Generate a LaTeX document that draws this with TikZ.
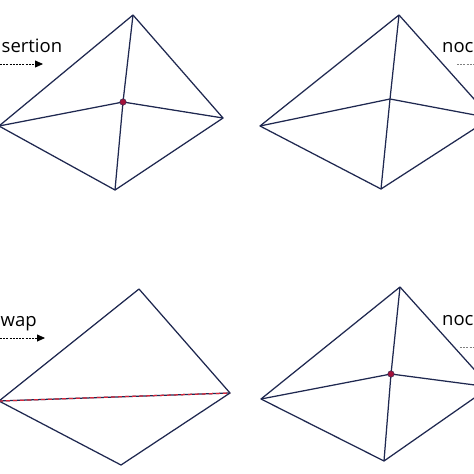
\documentclass[tikz,border=0pt]{standalone}
\usepackage{fontspec}
\setmainfont{Open Sans}
\usetikzlibrary{arrows.meta}
\definecolor{mesh}{HTML}{1F2850}
\definecolor{dotred}{HTML}{A3123A}
\definecolor{swapred}{HTML}{D8283C}
\tikzset{
  edge/.style={draw=mesh, line width=1.25pt, line join=round},
  label/.style={anchor=base west, inner sep=0pt, font=\fontsize{18.5}{22}\selectfont, text=black},
  darrow/.style={draw=black, line width=0.8pt, dash pattern=on 2pt off 1.2pt, -{Triangle[length=8pt,width=7pt]}},
  lightdash/.style={draw=gray, line width=0.8pt, dash pattern=on 2pt off 1.2pt},
  newpt/.style={circle, fill=dotred, draw=mesh, line width=0.4pt, minimum size=6.5pt, inner sep=0pt},
  reddash/.style={draw=swapred, line width=1.25pt, dash pattern=on 4pt off 3pt}
}
\begin{document}
\begin{tikzpicture}[x=1pt,y=-1pt]
\useasboundingbox (0,0) rectangle (474,474);
\clip (0,0) rectangle (474,474);
\fill[white] (0,0) rectangle (474,474);

% ---------- top-left: after insertion ----------
\coordinate (T1) at (133,15);
\coordinate (C1) at (123,102);
\coordinate (R1) at (223,118);
\coordinate (B1) at (115,190);
\coordinate (L1) at (-1,126);
\draw[edge] (L1) -- (T1) -- (R1) -- (B1) -- cycle;
\draw[edge] (T1) -- (C1) -- (B1);
\draw[edge] (L1) -- (C1) -- (R1);
\node[newpt] (P1) at (C1) {};
\node[label] (txt1) at (1.5,52) {sertion};
\coordinate (a1s) at (0,64);
\coordinate (a1e) at (43,64);
\draw[darrow] (a1s) -- (a1e);

% ---------- top-right ----------
\coordinate (T2) at (399,15);
\coordinate (C2) at (390,99);
\coordinate (R2) at (491,118);
\coordinate (B2) at (381,189);
\coordinate (L2) at (260,126);
\draw[edge] (L2) -- (T2) -- (R2) -- (B2) -- cycle;
\draw[edge] (T2) -- (C2) -- (B2);
\draw[edge] (L2) -- (C2) -- (R2);
\node[label] (txt2) at (442,52) {noc};
\coordinate (a2s) at (457,64);
\coordinate (a2e) at (476,64);
\draw[lightdash] (a2s) -- (a2e);

% ---------- bottom-left: swap ----------
\coordinate (T3) at (139,289);
\coordinate (R3) at (230,393);
\coordinate (B3) at (121,465);
\coordinate (L3) at (-1,401);
\draw[edge] (L3) -- (T3) -- (R3) -- (B3) -- cycle;
\draw[edge] (L3) -- (R3);
\draw[reddash] (L3) -- (R3);
\node[label] (txt3) at (0.5,326) {wap};
\coordinate (a3s) at (0,338);
\coordinate (a3e) at (45,338);
\draw[darrow] (a3s) -- (a3e);

% ---------- bottom-right ----------
\coordinate (T4) at (400,287);
\coordinate (C4) at (391,374);
\coordinate (R4) at (490,387);
\coordinate (B4) at (384,461);
\coordinate (L4) at (261,399);
\draw[edge] (L4) -- (T4) -- (R4) -- (B4) -- cycle;
\draw[edge] (T4) -- (C4) -- (B4);
\draw[edge] (L4) -- (C4) -- (R4);
\node[newpt] (P4) at (C4) {};
\node[label] (txt4) at (442,325) {noc};
\coordinate (a4s) at (460,347);
\coordinate (a4e) at (476,347);
\draw[lightdash] (a4s) -- (a4e);
\end{tikzpicture}
\end{document}
